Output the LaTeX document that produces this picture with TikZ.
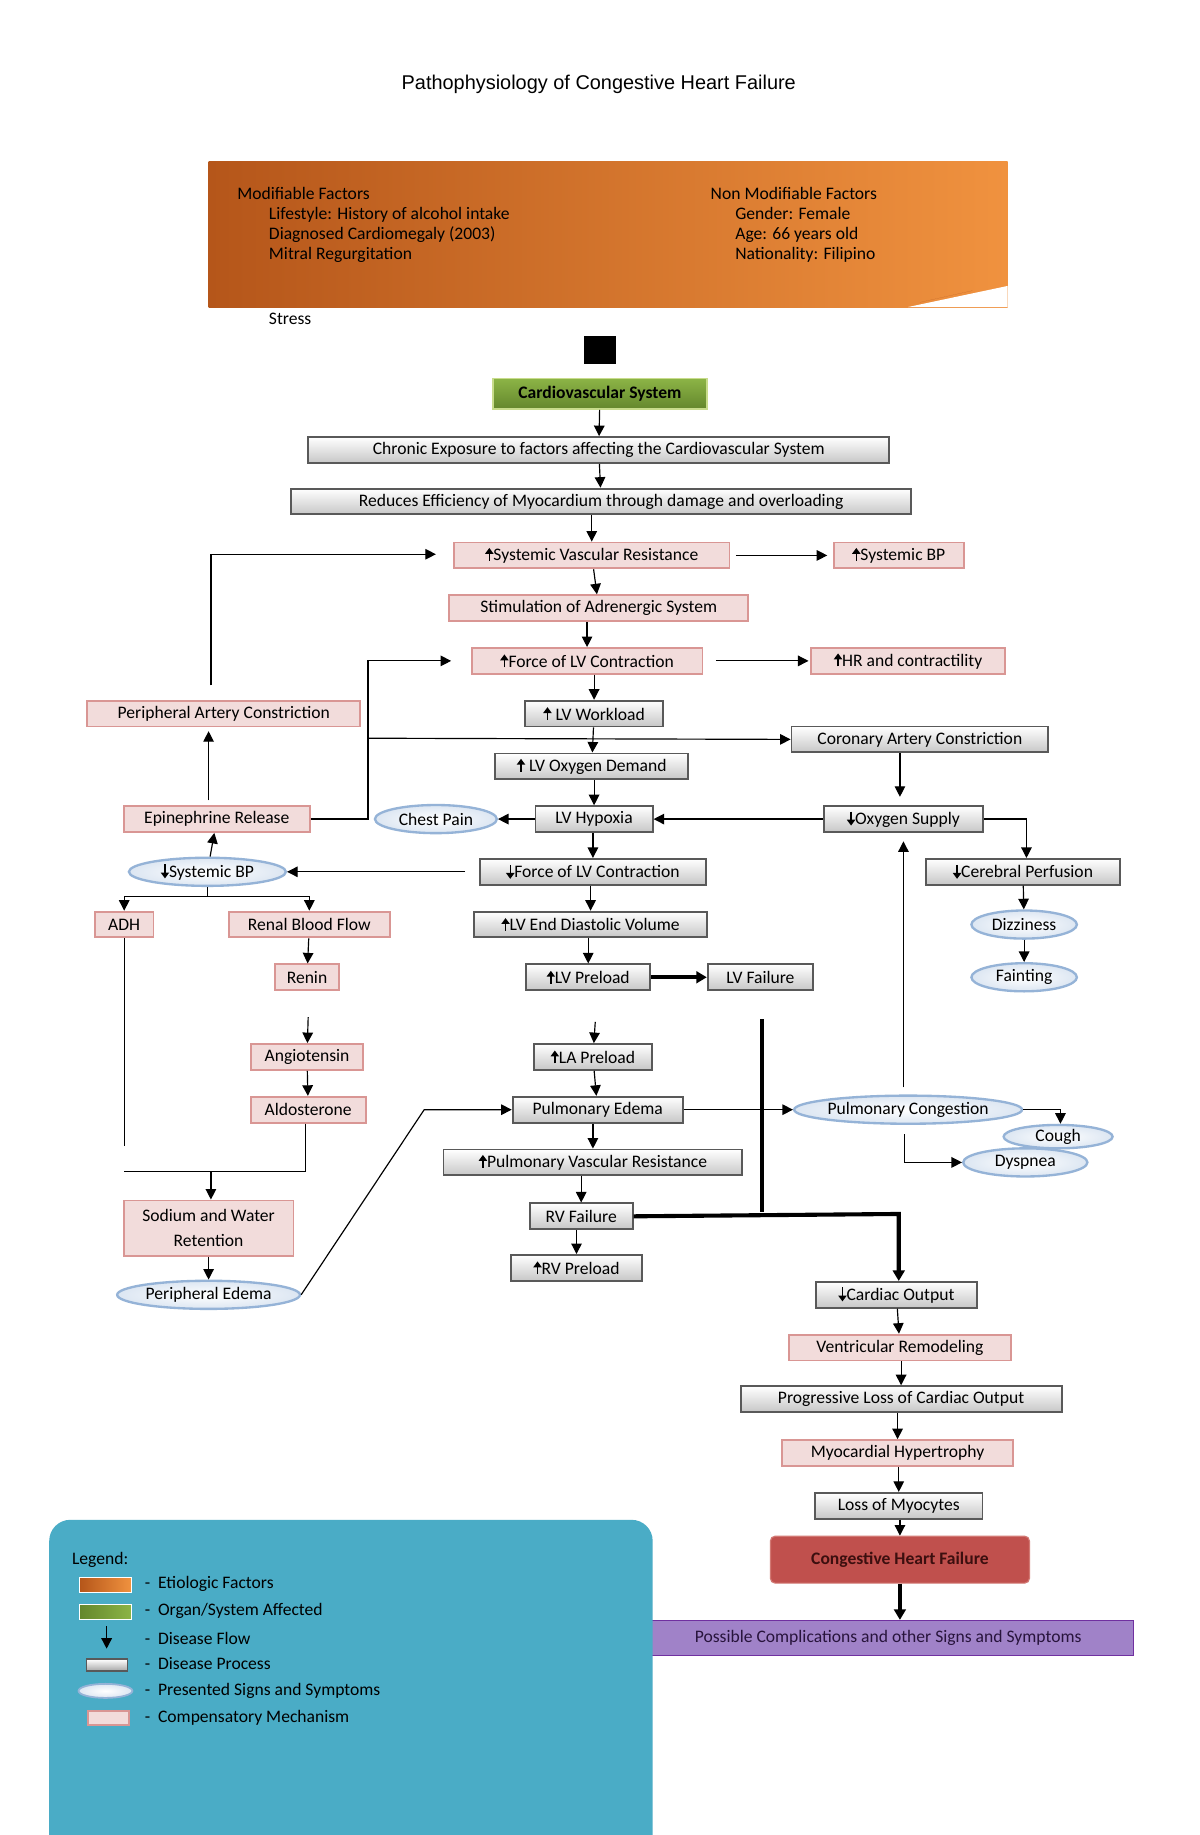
\documentclass[tikz,border=0pt]{standalone}
\usepackage{fontspec}
\setmainfont{Carlito}
\newfontfamily\titlefont{Liberation Sans}
\usetikzlibrary{arrows.meta,shapes.geometric}
\newcommand\upa{\tikz[x=1pt,y=1pt,baseline=0pt]\draw[line width=1.3pt,-{Triangle[length=5pt,width=7pt]}](0,0)--(0,11);}
\newcommand\dna{\tikz[x=1pt,y=1pt,baseline=0pt]\draw[line width=1.3pt,-{Triangle[length=5pt,width=7pt]}](0,11)--(0,-1);}
\definecolor{gbord}{HTML}{595959}
\definecolor{pbord}{HTML}{D99694}
\definecolor{pfill}{HTML}{F2DCDB}
\definecolor{ebord}{HTML}{95B3D7}
\definecolor{efill}{HTML}{DCE6F2}
\definecolor{orD}{RGB}{181,86,26}
\definecolor{orL}{RGB}{240,146,63}
\definecolor{orC}{RGB}{170,80,30}
\definecolor{grB}{RGB}{200,220,140}
\definecolor{grL}{RGB}{140,180,70}
\definecolor{grD}{RGB}{100,135,45}
\definecolor{redF}{RGB}{192,80,77}
\definecolor{redB}{RGB}{210,120,115}
\definecolor{redT}{RGB}{60,15,15}
\definecolor{puB}{RGB}{112,48,160}
\definecolor{puF}{RGB}{160,130,200}
\definecolor{puT}{RGB}{40,20,60}
\definecolor{legF}{RGB}{74,172,198}
\begin{document}
\begin{tikzpicture}[x=1pt,y=-1pt,font=\fontsize{15}{17}\selectfont,
  base/.style={draw,line width=1.6pt,minimum height=22pt,inner xsep=3pt,inner ysep=1pt},
  gbox/.style={base,draw=gbord,top color=white,bottom color=black!22},
  pbox/.style={base,draw=pbord,fill=pfill},
  ell/.style={ellipse,draw=ebord,line width=2pt,inner color=white,outer color=efill,minimum height=24pt,inner sep=0pt},
  ar/.style={-{Triangle[length=9pt,width=9pt]},line width=1pt},
  ln/.style={line width=1pt},
  thk/.style={line width=3.5pt},
  tar/.style={-{Triangle[length=9pt,width=10pt]},line width=3.5pt}]
\useasboundingbox (0,0) rectangle (1024,1566);
\fill[white] (0,0) rectangle (1024,1566);
% title
\node[font=\titlefont\fontsize{17}{20}\selectfont] (title) at (511,72) {Pathophysiology of Congestive Heart Failure};
% orange box
\shade[left color=orD,right color=orL] (178,138) rectangle (860,262);
\fill[white] (775,262) -- (860,262) -- (860,244) -- cycle;
\fill[orC] (785,258) -- (830,248) -- (812,252) -- cycle;
\node[anchor=west,align=left] (mod) at (199,192) {Modifiable Factors\\\hspace*{27pt}Lifestyle: History of alcohol intake\\\hspace*{27pt}Diagnosed Cardiomegaly (2003)\\\hspace*{27pt}Mitral Regurgitation};
\node[anchor=west,align=left] (nmod) at (603,192) {Non Modifiable Factors\\\hspace*{21pt}Gender: Female\\\hspace*{21pt}Age: 66 years old\\\hspace*{21pt}Nationality: Filipino};
\node[anchor=west] (stress) at (226,272) {Stress};
\node[fill=black,minimum width=28pt,minimum height=24pt,inner sep=0pt] (sq) at (512,299) {};
\node[base,draw=grB,top color=grL,bottom color=grD,font=\fontsize{15}{17}\selectfont\bfseries,minimum width=183pt,minimum height=26pt] (cardio) at (512,336) {Cardiovascular System};
% nodes
\node[gbox,minimum width=496pt] (chronic) at (511,384) {Chronic Exposure to factors affecting the Cardiovascular System};
\node[gbox,minimum width=529pt] (reduce) at (513,428) {Reduces Efficiency of Myocardium through damage and overloading};
\node[pbox,minimum width=235pt] (svr) at (505,474) {\upa Systemic Vascular Resistance};
\node[pbox,minimum width=111pt] (sbp1) at (767,474) {\upa Systemic BP};
\node[pbox,minimum width=255pt] (stim) at (511,519) {Stimulation of Adrenergic System};
\node[pbox,minimum width=197pt] (force1) at (501,564) {\upa Force of LV Contraction};
\node[pbox,minimum width=166pt] (hr) at (775,564) {\upa HR and contractility};
\node[pbox,minimum width=233pt] (pac) at (191,609) {Peripheral Artery Constriction};
\node[gbox,minimum width=118pt] (work) at (507,609) {\upa\ LV Workload};
\node[gbox,minimum width=219pt] (cac) at (785,631) {Coronary Artery Constriction};
\node[gbox,minimum width=165pt] (demand) at (505,654) {\upa\ LV Oxygen Demand};
\node[pbox,minimum width=159pt] (epi) at (185,699) {Epinephrine Release};
\node[ell,minimum width=104pt] (chest) at (372,699) {Chest Pain};
\node[gbox,minimum width=100pt] (hyp) at (507,699) {LV Hypoxia};
\node[gbox,minimum width=136pt] (oxy) at (771,699) {\dna Oxygen Supply};
\node[ell,minimum width=134pt] (sbp2) at (177,744) {\dna Systemic BP};
\node[gbox,minimum width=193pt] (force2) at (506,744) {\dna Force of LV Contraction};
\node[gbox,minimum width=166pt] (cere) at (873,744) {\dna Cerebral Perfusion};
\node[pbox,minimum width=50pt] (adh) at (106,789) {ADH};
\node[pbox,minimum width=137pt] (renal) at (264,789) {Renal Blood Flow};
\node[gbox,minimum width=199pt] (edv) at (504,789) {\upa LV End Diastolic Volume};
\node[ell,minimum width=90pt] (dizz) at (874,789) {Dizziness};
\node[pbox,minimum width=55pt] (renin) at (262,834) {Renin};
\node[gbox,minimum width=106pt] (preload) at (502,834) {\upa LV Preload};
\node[gbox,minimum width=90pt] (lvf) at (649,834) {LV Failure};
\node[ell,minimum width=90pt] (faint) at (874,834) {Fainting};
\node[pbox,minimum width=96pt] (ang) at (262,902) {Angiotensin};
\node[gbox,minimum width=101pt] (la) at (506,902) {\upa LA Preload};
\node[pbox,minimum width=98pt] (ald) at (263,947) {Aldosterone};
\node[gbox,minimum width=145pt] (pe) at (510,947) {Pulmonary Edema};
\node[ell,minimum width=192pt] (pcong) at (775,947) {Pulmonary Congestion};
\node[ell,minimum width=93pt,minimum height=20pt] (cough) at (903,970) {Cough};
\node[ell,minimum width=106pt] (dysp) at (875,992) {Dyspnea};
\node[gbox,minimum width=255pt] (pvr) at (506,992) {\upa Pulmonary Vascular Resistance};
\node[pbox,minimum width=145pt,minimum height=47pt,align=center,font=\fontsize{15}{21}\selectfont] (swr) at (178,1048) {Sodium and Water\\Retention};
\node[gbox,minimum width=88pt] (rvf) at (496,1038) {RV Failure};
\node[gbox,minimum width=112pt] (rvp) at (492,1082) {\upa RV Preload};
\node[ell,minimum width=156pt] (pedema) at (178,1105) {Peripheral Edema};
\node[gbox,minimum width=137pt] (co) at (765,1105) {\dna Cardiac Output};
\node[pbox,minimum width=189pt] (vr) at (768,1150) {Ventricular Remodeling};
\node[gbox,minimum width=274pt] (plco) at (769,1194) {Progressive Loss of Cardiac Output};
\node[pbox,minimum width=197pt] (mh) at (766,1240) {Myocardial Hypertrophy};
\node[gbox,minimum width=143pt] (lom) at (767,1285) {Loss of Myocytes};
\node[rounded corners=4pt,fill=redF,draw=redB,line width=1pt,minimum width=221pt,minimum height=40pt,font=\fontsize{15}{17}\selectfont\bfseries,text=redT] (chf) at (768,1331) {Congestive Heart Failure};
\node[draw=puB,line width=1.2pt,fill=puF,minimum width=419pt,minimum height=30pt,text=puT] (comp) at (758,1398) {Possible Complications and other Signs and Symptoms};
% main chain
\draw[ar] (cardio) -- (chronic);
\draw[ar] (chronic) -- (reduce);
\draw[ar] (reduce.south -| svr) -- (svr);
\draw[ar] (svr) -- (stim);
\draw[ar] (stim.south -| force1) -- (force1);
\draw[ar] (force1.south -| work) -- (work);
\draw[ar] (work) -- (demand);
\draw[ar] (demand.south -| hyp) -- (hyp);
\draw[ar] (hyp.south -| force2) -- (force2);
\draw[ar] (force2.south -| edv) -- (edv);
\draw[ar] (edv.south -| preload) -- (preload);
\coordinate (sv1) at (628,474); \coordinate (sv2) at (706,474);
\draw[ar] (sv1) -- (sv2);
\coordinate (fh1) at (611,564); \coordinate (fh2) at (690,564);
\draw[ar] (fh1) -- (fh2);
% left loops
\coordinate (p1) at (180,585); \coordinate (p2) at (372,473);
\draw[ar] (p1) |- (p2);
\coordinate (e1) at (178,683); \coordinate (e2) at (178,624);
\draw[ar] (e1) -- (e2);
\coordinate (f1) at (385,564);
\draw[ar] (epi.east) -- (314,699) |- (f1);
\coordinate (w1) at (314,630);
\draw[ar] (w1) -- (cac.west);
\coordinate (c1) at (768,680);
\draw[ar] (cac.south -| c1) -- (c1);
\draw[ar] (oxy) -- (hyp);
\draw[ar] (hyp) -- (chest);
\draw[ar] (oxy.east) -- (876,699) -- (cere.north -| 876,0);
\draw[ar] (cere) -- (dizz);
\draw[ar] (dizz) -- (faint);
\coordinate (fb) at (397,744);
\draw[ar] (fb) -- (sbp2);
\draw[ar] (sbp2) -- (epi);
\draw[ln] (sbp2.south) -- (177,765);
\draw[ar] (177,765) -| (adh.north);
\draw[ar] (177,765) -| (renal.north);
\draw[ar] (renal) -- (renin);
\coordinate (rn) at (263,868);
\draw[ar] (rn) -- (ang);
\draw[ar] (ang) -- (ald);
\coordinate (a1) at (106,978);
\draw[ln] (adh) -- (a1);
\draw[ln] (ald.south -| 261,0) -- (261,1000) -- (106,1000);
\draw[ar] (180,1000) -- (swr.north -| 180,0);
\draw[ar] (swr) -- (pedema);
\draw[ar] (pedema.east) -- (362,947) -- (pe.west);
% right part
\draw[tar] (preload) -- (lvf);
\coordinate (t1) at (650,870); \coordinate (t2) at (650,1034);
\draw[thk] (t1) -- (t2);
\draw[tar] (rvf.east) -- (767,1036) -- (co.north -| 767,0);
\coordinate (l1) at (508,872);
\draw[ar] (l1) -- (la);
\draw[ar] (la) -- (pe);
\draw[ar] (pe) -- (pcong);
\draw[ar] (pe.south -| pvr) -- (pvr);
\draw[ar] (pvr.south -| rvf) -- (rvf);
\draw[ar] (rvf.south -| rvp) -- (rvp);
\coordinate (pc1) at (771,928); \coordinate (pc2) at (771,718);
\draw[ar] (pc1) -- (pc2);
\draw[ar] (pcong.east) -- (905,947) -- (cough.north -| 905,0);
\draw[ar] (772,968) |- (dysp.west);
\draw[ar] (co) -- (vr);
\draw[ar] (vr.south -| plco) -- (plco);
\draw[ar] (plco.south -| mh) -- (mh);
\draw[ar] (mh.south -| lom) -- (lom);
\draw[ar] (lom.south -| chf) -- (chf);
\draw[tar] (chf) -- (chf.south |- comp.north);
% legend
\begin{scope}
\clip (0,0) rectangle (1024,1566);
\fill[legF] (42,1600) [rounded corners=18pt] -- (42,1297) -- (557,1297) -- (557,1600) -- cycle;
\end{scope}
\node[anchor=west] (leg) at (58,1331) {Legend:};
\shade[left color=orD,right color=orL,draw=white] (68,1346) rectangle (112,1359);
\shade[left color=grD,right color=grL,draw=white] (68,1369) rectangle (112,1382);
\draw[ar,line width=1.3pt] (91,1388) -- (91,1407);
\shade[top color=white,bottom color=black!35,draw=gbord,line width=1.3pt] (74,1416) rectangle (109,1426);
\shade[inner color=white,outer color=efill,draw=ebord,line width=1.5pt] (90,1443) ellipse (23 and 6);
\draw[pbord,fill=pfill,line width=1.5pt] (75,1460) rectangle (110,1472);
\node[anchor=west] (l1t) at (120,1352) {-\ \ Etiologic Factors};
\node[anchor=west] (l2t) at (120,1375) {-\ \ Organ/System Affected};
\node[anchor=west] (l3t) at (120,1398) {-\ \ Disease Flow};
\node[anchor=west] (l4t) at (120,1420) {-\ \ Disease Process};
\node[anchor=west] (l5t) at (120,1443) {-\ \ Presented Signs and Symptoms};
\node[anchor=west] (l6t) at (120,1466) {-\ \ Compensatory Mechanism};
\end{tikzpicture}
\end{document}
